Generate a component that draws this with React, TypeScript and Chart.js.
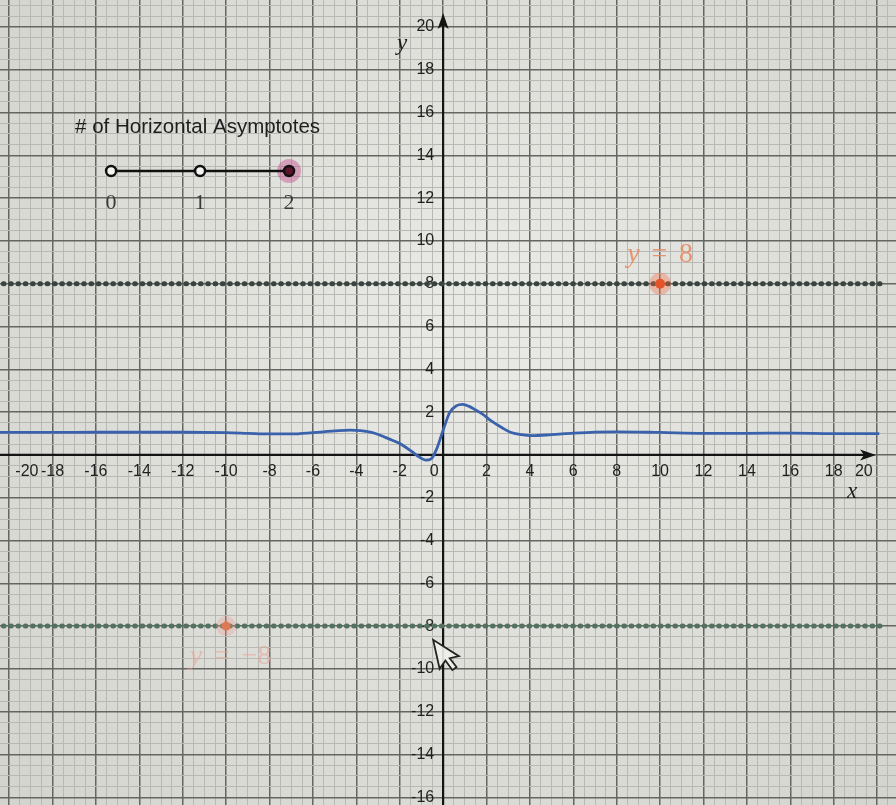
import React, { useEffect, useRef } from 'react';
import { Chart, registerables } from 'chart.js';

Chart.register(...registerables);

// ---- data ----
const curveX = [-20.6, -18, -16, -14, -12, -10, -9, -8, -7, -6, -5, -4.3, -3.8, -3.3, -2.9, -2.5, -2, -1.5, -1.1, -0.8, -0.55, -0.3, -0.1, 0.1, 0.3, 0.6, 0.9, 1.2, 1.5, 1.8, 2.2, 2.7, 3.1, 3.6, 4.1, 5, 6, 7, 8, 10, 12, 14, 16, 18, 20.1];
const curveY = [1.05, 1.05, 1.06, 1.06, 1.06, 1.04, 1.01, 0.98, 0.98, 1.04, 1.12, 1.16, 1.14, 1.05, 0.92, 0.75, 0.53, 0.2, -0.1, -0.24, -0.18, 0.27, 0.85, 1.45, 1.98, 2.29, 2.36, 2.27, 2.1, 1.92, 1.6, 1.28, 1.06, 0.95, 0.9, 0.95, 1.02, 1.07, 1.08, 1.05, 1.01, 1.01, 1.02, 1.0, 1.0];

const asymptoteY = [8, -8];
const asymptoteSpan = [-20.6, 20.4];
const markerX = [10, -10];
const markerY = [8, -8];
const markerLabelValue = ['8', '\u22128'];
const markerLabelX = [10, -9.8];
const markerLabelY = [9.35, -9.44];

const sliderTitle = '# of Horizontal Asymptotes';
const sliderValues = ['0', '1', '2'];
const sliderX = [-15.3, -11.2, -7.1];
const sliderY = 13.27;
const sliderSelected = 2;
const sliderTitleX = -16.96;
const sliderTitleY = 15.33;
const sliderLabelY = 11.78;

const xTitle = 'x';
const yTitle = 'y';

const X_MIN = -20.42;
const X_MAX = 20.87;
const Y_MIN = -16.36;
const Y_MAX = 21.26;
const TICK_STEP = 0.5;
const MAJOR_STEP = 2;

export default function App() {
  const ref = useRef<HTMLCanvasElement>(null);

  useEffect(() => {
    const canvas = ref.current;
    if (!canvas) return;
    const serif = '"Liberation Serif", "DejaVu Serif", serif';
    const sans = '"Liberation Sans", Arial, sans-serif';
    const MAJOR = '#656562';
    const MINOR = '#b8b8b4';
    const isMajor = (v: number) => Math.abs(v % MAJOR_STEP) < 1e-9;
    const gridColor = (c: any) => (c.tick && isMajor(c.tick.value) ? MAJOR : MINOR);
    const gridWidth = (c: any) => (c.tick && isMajor(c.tick.value) ? 1.5 : 1);
    const noPad = (s: any) => {
      s.paddingLeft = 0;
      s.paddingRight = 0;
      s.paddingTop = 0;
      s.paddingBottom = 0;
    };

    const drawMath = (ctx: CanvasRenderingContext2D, value: string, cx: number, cy: number, size: number, color: string) => {
      const parts = [
        { t: 'y', italic: true },
        { t: '=', italic: false },
        { t: value, italic: false },
      ];
      const gap = size * 0.42;
      const widths = parts.map((p) => {
        ctx.font = `${p.italic ? 'italic ' : ''}${size}px ${serif}`;
        return ctx.measureText(p.t).width;
      });
      const total = widths.reduce((a, b) => a + b, 0) + gap * (parts.length - 1);
      let x = cx - total / 2;
      ctx.fillStyle = color;
      ctx.textBaseline = 'middle';
      ctx.textAlign = 'left';
      parts.forEach((p, i) => {
        ctx.font = `${p.italic ? 'italic ' : ''}${size}px ${serif}`;
        ctx.fillText(p.t, x, cy);
        x += widths[i] + gap;
      });
    };

    const decor = {
      id: 'decor',
      beforeDraw(chart: any) {
        const { ctx, width, height } = chart;
        ctx.save();
        const g = ctx.createRadialGradient(width * 0.55, height * 0.4, 60, width * 0.5, height * 0.5, Math.max(width, height) * 0.8);
        g.addColorStop(0, '#e8e8e4');
        g.addColorStop(1, '#d0d0cb');
        ctx.fillStyle = g;
        ctx.fillRect(0, 0, width, height);
        ctx.restore();
      },
      beforeDatasetsDraw(chart: any) {
        const { ctx, chartArea } = chart;
        const xs = chart.scales.x;
        const ys = chart.scales.y;
        const x0 = xs.getPixelForValue(0);
        const y0 = ys.getPixelForValue(0);
        const xEnd = xs.getPixelForValue(19.95);
        const yTop = ys.getPixelForValue(20.65);
        ctx.save();
        ctx.strokeStyle = '#141414';
        ctx.fillStyle = '#141414';
        ctx.lineWidth = 2.2;
        ctx.beginPath();
        ctx.moveTo(chartArea.left, y0);
        ctx.lineTo(xEnd - 8, y0);
        ctx.stroke();
        ctx.beginPath();
        ctx.moveTo(x0, chartArea.bottom);
        ctx.lineTo(x0, yTop + 8);
        ctx.stroke();
        ctx.beginPath();
        ctx.moveTo(xEnd, y0);
        ctx.lineTo(xEnd - 16, y0 - 5.5);
        ctx.lineTo(xEnd - 12, y0);
        ctx.lineTo(xEnd - 16, y0 + 5.5);
        ctx.closePath();
        ctx.fill();
        ctx.beginPath();
        ctx.moveTo(x0, yTop);
        ctx.lineTo(x0 - 5.5, yTop + 16);
        ctx.lineTo(x0, yTop + 12);
        ctx.lineTo(x0 + 5.5, yTop + 16);
        ctx.closePath();
        ctx.fill();
        ctx.restore();
      },
      afterDatasetsDraw(chart: any) {
        const { ctx } = chart;
        const xs = chart.scales.x;
        const ys = chart.scales.y;
        ctx.save();
        ctx.fillStyle = '#1c1c1c';
        ctx.font = `italic 23px ${serif}`;
        ctx.textAlign = 'center';
        ctx.textBaseline = 'middle';
        ctx.fillText(yTitle, xs.getPixelForValue(-1.89), ys.getPixelForValue(19.2));
        ctx.fillText(xTitle, xs.getPixelForValue(18.85), ys.getPixelForValue(-1.73));
        ctx.font = `20.5px ${sans}`;
        ctx.textAlign = 'left';
        ctx.fillStyle = '#1e1e1e';
        ctx.fillText(sliderTitle, xs.getPixelForValue(sliderTitleX), ys.getPixelForValue(sliderTitleY));
        ctx.font = `22px ${serif}`;
        ctx.textAlign = 'center';
        ctx.fillStyle = '#3a3a3a';
        sliderValues.forEach((s, i) => {
          ctx.fillText(s, xs.getPixelForValue(sliderX[i]), ys.getPixelForValue(sliderLabelY));
        });
        const colors = ['rgba(228,140,100,0.9)', 'rgba(232,165,150,0.6)'];
        markerLabelValue.forEach((v, i) => {
          drawMath(ctx, v, xs.getPixelForValue(markerLabelX[i]), ys.getPixelForValue(markerLabelY[i]), 28, colors[i]);
        });
        ctx.restore();
      },
      afterDraw(chart: any) {
        const { ctx } = chart;
        const xs = chart.scales.x;
        const ys = chart.scales.y;
        const tx = xs.getPixelForValue(-0.46);
        const ty = ys.getPixelForValue(-8.64);
        const pts = [[0, 0], [0, 22], [5.5, 17], [9, 25], [12.5, 23.5], [9, 16], [16, 16]];
        ctx.save();
        ctx.translate(tx, ty);
        ctx.rotate(-0.22);
        ctx.scale(1.35, 1.35);
        ctx.beginPath();
        pts.forEach((p, i) => (i ? ctx.lineTo(p[0], p[1]) : ctx.moveTo(p[0], p[1])));
        ctx.closePath();
        ctx.fillStyle = 'rgba(240,240,236,0.9)';
        ctx.fill();
        ctx.lineWidth = 1.3;
        ctx.strokeStyle = '#222';
        ctx.stroke();
        ctx.restore();
      },
    };

    const lineColors = ['#38443f', '#52715f'];

    const chart = new Chart(canvas, {
      type: 'line',
      data: {
        datasets: [
          {
            label: 'slider',
            data: sliderX.map((x) => ({ x, y: sliderY })),
            borderColor: '#111',
            borderWidth: 2.5,
            pointRadius: 5,
            pointBorderWidth: 2.5,
            pointBorderColor: '#111',
            pointBackgroundColor: sliderX.map((_, i) => (i === sliderSelected ? '#5e1429' : '#f4f4f0')),
            order: 0,
          } as any,
          {
            type: 'scatter',
            label: 'slider halo',
            data: [{ x: sliderX[sliderSelected], y: sliderY }],
            pointRadius: 12,
            pointBorderWidth: 0,
            pointBackgroundColor: 'rgba(196,80,140,0.45)',
            order: 0.5,
          } as any,
          {
            label: 'curve',
            data: curveX.map((x, i) => ({ x, y: curveY[i] })),
            borderColor: '#3a62ac',
            borderWidth: 2.8,
            pointRadius: 0,
            cubicInterpolationMode: 'monotone',
            order: 1,
          } as any,
          {
            type: 'scatter',
            label: 'markers',
            data: markerX.map((x, i) => ({ x, y: markerY[i] })),
            pointRadius: [5, 4.5],
            pointBorderWidth: 0,
            pointBackgroundColor: ['#e4542a', '#dd7a52'],
            order: 2,
          } as any,
          {
            type: 'scatter',
            label: 'marker halos',
            data: markerX.map((x, i) => ({ x, y: markerY[i] })),
            pointRadius: [11, 10],
            pointBorderWidth: 0,
            pointBackgroundColor: ['rgba(240,110,70,0.38)', 'rgba(240,150,140,0.3)'],
            order: 3,
          } as any,
          ...asymptoteY.map((v, i) => ({
            label: `y=${v}`,
            data: asymptoteSpan.map((x) => ({ x, y: v })),
            borderColor: lineColors[i],
            borderWidth: 5,
            borderDash: [0.6, 6.7],
            borderCapStyle: 'round',
            pointRadius: 0,
            order: 4,
          } as any)),
        ],
      },
      options: {
        responsive: false,
        animation: false,
        events: [],
        layout: { padding: 0, autoPadding: false },
        plugins: { legend: { display: false }, tooltip: { enabled: false }, title: { display: false } },
        scales: {
          x: {
            type: 'linear',
            min: X_MIN,
            max: X_MAX,
            position: { y: 0 } as any,
            afterFit: noPad,
            border: { display: false },
            grid: { color: gridColor, lineWidth: gridWidth, drawTicks: false },
            ticks: {
              stepSize: TICK_STEP,
              autoSkip: false,
              includeBounds: false,
              maxRotation: 0,
              minRotation: 0,
              padding: 7,
              color: '#1f1f1f',
              font: { family: sans, size: 16 },
              callback: (v: any) => {
                const n = Number(v);
                if (!isMajor(n)) return '';
                if (n === 0) return '0    ';
                if (n === -20) return '        -20';
                if (n === 20) return '20      ';
                return String(n);
              },
            },
          },
          y: {
            type: 'linear',
            min: Y_MIN,
            max: Y_MAX,
            position: { x: 0 } as any,
            afterFit: noPad,
            border: { display: false },
            grid: { color: gridColor, lineWidth: gridWidth, drawTicks: false },
            ticks: {
              stepSize: TICK_STEP,
              autoSkip: false,
              includeBounds: false,
              color: '#1f1f1f',
              font: { family: sans, size: 16 },
              callback: (v: any) => {
                const n = Number(v);
                if (!isMajor(n) || n === 0) return '';
                return String(n) + '  ';
              },
            },
          },
        },
      },
      plugins: [decor],
    } as any);

    return () => chart.destroy();
  }, []);

  return (
    <div style={{ position: 'absolute', left: 0, top: 0, width: 896, height: 805, overflow: 'hidden' }}>
      <canvas ref={ref} width={896} height={805} style={{ display: 'block', width: 896, height: 805 }} />
    </div>
  );
}
